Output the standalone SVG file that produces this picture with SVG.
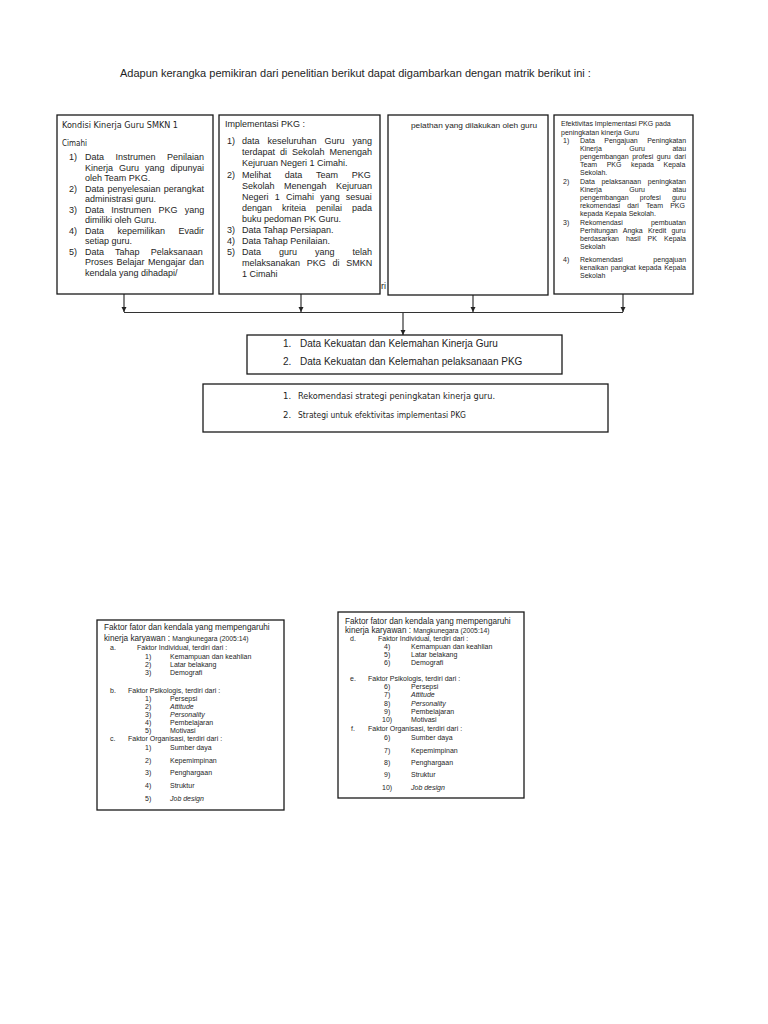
<svg xmlns="http://www.w3.org/2000/svg" width="768" height="1024" viewBox="0 0 768 1024">
<defs>
<style>
.bx{fill:#fff;stroke:#1a1a1a;stroke-width:1.3}
text{font-family:"Liberation Sans",Arial,sans-serif;fill:#1e1e1e}
.t9{font-size:9px}
.t10{font-size:10px}
.t11{font-size:11px}
.th{font-family:"DejaVu Sans","Liberation Sans",sans-serif;font-size:8.5px}
.t7{font-size:7px}
.t75{font-size:7.5px}
.t8{font-size:8.2px}
.t6{font-size:6.8px}
.it{font-style:italic}
.cn{stroke:#333;stroke-width:1.2;fill:none}
</style>
<marker id="ah" markerWidth="6" markerHeight="6" refX="5" refY="2.5" orient="auto" markerUnits="userSpaceOnUse"><path d="M0,0 L5,2.5 L0,5 z" fill="#222"/></marker>
</defs>
<rect width="768" height="1024" fill="#fff"/>

<text id="title" class="t11" x="120" y="77">Adapun kerangka pemikiran dari penelitian berikut dapat digambarkan dengan matrik berikut ini :</text>

<g id="connectors">
<path class="cn" d="M124,294 V312" marker-end="url(#ah)"/>
<path class="cn" d="M301,294 V312" marker-end="url(#ah)"/>
<path class="cn" d="M473,295 V312" marker-end="url(#ah)"/>
<path class="cn" d="M623,294 V312" marker-end="url(#ah)"/>
<path class="cn" d="M124,312.5 H623"/>
<path class="cn" d="M403,312 V335" marker-end="url(#ah)"/>
</g>

<g id="node-kondisi">
<rect class="bx" x="57" y="115" width="156" height="179"/>
<text class="th" x="62" y="128" textLength="116" lengthAdjust="spacingAndGlyphs">Kondisi Kinerja Guru SMKN 1</text>
<text class="th" x="62" y="146" textLength="25" lengthAdjust="spacingAndGlyphs">Cimahi</text>
<g class="t9">
<text x="69" y="160">1)</text><text x="85" y="160" style="word-spacing:9px">Data Instrumen Penilaian</text>
<text x="85" y="170.5" style="word-spacing:3.5px">Kinerja Guru yang dipunyai</text>
<text x="85" y="181">oleh Team PKG.</text>
<text x="69" y="191.5">2)</text><text x="85" y="191.5" style="word-spacing:0.9px">Data penyelesaian perangkat</text>
<text x="85" y="202">administrasi guru.</text>
<text x="69" y="212.5">3)</text><text x="85" y="212.5" style="word-spacing:4.7px">Data Instrumen PKG yang</text>
<text x="85" y="223">dimiliki oleh Guru.</text>
<text x="69" y="233.5">4)</text><text x="85" y="233.5" style="word-spacing:11px">Data kepemilikan Evadir</text>
<text x="85" y="244">setiap guru.</text>
<text x="69" y="254.5">5)</text><text x="85" y="254.5" style="word-spacing:8.7px">Data Tahap Pelaksanaan</text>
<text x="85" y="265" style="word-spacing:1px">Proses Belajar Mengajar dan</text>
<text x="85" y="275.5">kendala yang dihadapi/</text>
</g>
</g>

<g id="node-implementasi">
<rect class="bx" x="219" y="115" width="161" height="179"/>
<g class="t9">
<text x="225" y="127">Implementasi PKG :</text>
<text x="227" y="144">1)</text><text x="242" y="144" style="word-spacing:5.5px">data keseluruhan Guru yang</text>
<text x="242" y="155" style="word-spacing:2.5px">terdapat di Sekolah Menengah</text>
<text x="242" y="166">Kejuruan Negeri 1 Cimahi.</text>
<text x="227" y="177.5">2)</text><text x="242" y="177.5" style="word-spacing:11.3px">Melihat data Team PKG</text>
<text x="242" y="188.5" style="word-spacing:7px">Sekolah Menengah Kejuruan</text>
<text x="242" y="199.5" style="word-spacing:3.7px">Negeri 1 Cimahi yang sesuai</text>
<text x="242" y="210.5" style="word-spacing:7.5px">dengan kriteia penilai pada</text>
<text x="242" y="221.5">buku pedoman PK Guru.</text>
<text x="227" y="233">3)</text><text x="242" y="233">Data Tahap Persiapan.</text>
<text x="227" y="244">4)</text><text x="242" y="244">Data Tahap Penilaian.</text>
<text x="227" y="255">5)</text><text x="242" y="255" style="word-spacing:15.5px">Data guru yang telah</text>
<text x="242" y="266" style="word-spacing:4.2px">melaksanakan PKG di SMKN</text>
<text x="242" y="277">1 Cimahi</text>
</g>
</g>

<g id="node-pelatihan">
<rect class="bx" x="388" y="115" width="160" height="180"/>
<text class="t75" x="411" y="127.5" textLength="126" lengthAdjust="spacingAndGlyphs">pelathan yang dilakukan oleh guru</text>
</g>
<text class="t9" x="381" y="289">ri</text>

<g id="node-efektivitas">
<rect class="bx" x="554" y="115" width="139" height="179"/>
<g class="t7">
<text x="561" y="125.5">Efektivitas Implementasi PKG pada</text>
<text x="561" y="134.5">peningkatan kinerja Guru</text>
<text x="563" y="142.5">1)</text><text x="580" y="142.5" style="word-spacing:7.5px">Data Pengajuan Peningkatan</text>
<text x="580" y="150.5" style="word-spacing:25.6px">Kinerja Guru atau</text>
<text x="580" y="158.5" style="word-spacing:1.6px">pengembangan profesi guru dari</text>
<text x="580" y="166.5" style="word-spacing:7.6px">Team PKG kepada Kepala</text>
<text x="580" y="174.5">Sekolah.</text>
<text x="563" y="183.5">2)</text><text x="580" y="183.5" style="word-spacing:4.7px">Data pelaksanaan peningkatan</text>
<text x="580" y="191.5" style="word-spacing:25.6px">Kinerja Guru atau</text>
<text x="580" y="199.5" style="word-spacing:9.2px">pengembangan profesi guru</text>
<text x="580" y="207.5" style="word-spacing:5.2px">rekomendasi dari Team PKG</text>
<text x="580" y="215.5">kepada Kepala Sekolah.</text>
<text x="563" y="224.5">3)</text><text x="580" y="224.5" style="word-spacing:26.2px">Rekomendasi pembuatan</text>
<text x="580" y="232.5" style="word-spacing:3.4px">Perhitungan Angka Kredit guru</text>
<text x="580" y="240.5" style="word-spacing:5.2px">berdasarkan hasil PK Kepala</text>
<text x="580" y="248.5">Sekolah</text>
<text x="563" y="261.5">4)</text><text x="580" y="261.5" style="word-spacing:28.6px">Rekomendasi pengajuan</text>
<text x="580" y="269.5" style="word-spacing:0.8px">kenaikan pangkat kepada Kepala</text>
<text x="580" y="277.5">Sekolah</text>
</g>
</g>

<g id="node-data-kekuatan">
<rect class="bx" x="247" y="335" width="315" height="39"/>
<g class="t10">
<text x="283" y="346.5">1.</text><text x="300" y="346.5">Data Kekuatan dan Kelemahan Kinerja Guru</text>
<text x="283" y="364.5">2.</text><text x="300" y="364.5">Data Kekuatan dan Kelemahan pelaksanaan PKG</text>
</g>
</g>

<g id="node-rekomendasi">
<rect class="bx" x="203" y="384" width="405" height="48"/>
<text class="th" x="283" y="399">1.</text><text class="th" x="298" y="399" textLength="197" lengthAdjust="spacingAndGlyphs">Rekomendasi strategi peningkatan kinerja guru.</text>
<text class="th" x="283" y="418">2.</text><text class="th" x="298" y="418" textLength="168" lengthAdjust="spacingAndGlyphs">Strategi untuk efektivitas implementasi PKG</text>
</g>

<g id="node-faktor-1">
<rect class="bx" x="97" y="620" width="187" height="190"/>
<text class="t8" x="104" y="630">Faktor fator dan kendala yang mempengaruhi</text>
<text class="t8" x="104" y="641">kinerja karyawan : <tspan class="t6">Mangkunegara (2005:14)</tspan></text>
<g class="t7">
<text x="110" y="649.5">a.</text><text x="137" y="649.5">Faktor Individual, terdiri dari :</text>
<text x="145" y="658.5">1)</text><text x="170" y="658.5">Kemampuan dan keahlian</text>
<text x="145" y="666.5">2)</text><text x="170" y="666.5">Latar belakang</text>
<text x="145" y="674.5">3)</text><text x="170" y="674.5">Demografi</text>
<text x="110" y="692.5">b.</text><text x="128" y="692.5">Faktor Psikologis, terdiri dari :</text>
<text x="145" y="700.5">1)</text><text x="170" y="700.5">Persepsi</text>
<text x="145" y="708.5">2)</text><text x="170" y="708.5" class="it">Attitude</text>
<text x="145" y="716.5">3)</text><text x="170" y="716.5" class="it">Personality</text>
<text x="145" y="724.5">4)</text><text x="170" y="724.5">Pembelajaran</text>
<text x="145" y="732.5">5)</text><text x="170" y="732.5">Motivasi</text>
<text x="110" y="741">c.</text><text x="128" y="741">Faktor Organisasi, terdiri dari :</text>
<text x="145" y="749.5">1)</text><text x="170" y="749.5">Sumber daya</text>
<text x="145" y="763">2)</text><text x="170" y="763">Kepemimpinan</text>
<text x="145" y="775">3)</text><text x="170" y="775">Penghargaan</text>
<text x="145" y="788">4)</text><text x="170" y="788">Struktur</text>
<text x="145" y="800.5">5)</text><text x="170" y="800.5" class="it">Job design</text>
</g>
</g>

<g id="node-faktor-2">
<rect class="bx" x="338" y="612" width="186" height="186"/>
<text class="t8" x="345" y="624">Faktor fator dan kendala yang mempengaruhi</text>
<text class="t8" x="345" y="633">kinerja karyawan : <tspan class="t6">Mangkunegara (2005:14)</tspan></text>
<g class="t7">
<text x="350" y="640.5">d.</text><text x="378" y="640.5">Faktor Individual, terdiri dari :</text>
<text x="384" y="648.5">4)</text><text x="411" y="648.5">Kemampuan dan keahlian</text>
<text x="384" y="656.5">5)</text><text x="411" y="656.5">Latar belakang</text>
<text x="384" y="664.5">6)</text><text x="411" y="664.5">Demografi</text>
<text x="350" y="680.5">e.</text><text x="368" y="680.5">Faktor Psikologis, terdiri dari :</text>
<text x="384" y="688.5">6)</text><text x="411" y="688.5">Persepsi</text>
<text x="384" y="696.5">7)</text><text x="411" y="696.5" class="it">Attitude</text>
<text x="384" y="705.5">8)</text><text x="411" y="705.5" class="it">Personality</text>
<text x="384" y="714">9)</text><text x="411" y="714">Pembelajaran</text>
<text x="382" y="722">10)</text><text x="411" y="722">Motivasi</text>
<text x="351" y="730.5">f.</text><text x="368" y="730.5">Faktor Organisasi, terdiri dari :</text>
<text x="384" y="739.5">6)</text><text x="411" y="739.5">Sumber daya</text>
<text x="384" y="752.5">7)</text><text x="411" y="752.5">Kepemimpinan</text>
<text x="384" y="764.5">8)</text><text x="411" y="764.5">Penghargaan</text>
<text x="384" y="777">9)</text><text x="411" y="777">Struktur</text>
<text x="382" y="789.5">10)</text><text x="411" y="789.5" class="it">Job design</text>
</g>
</g>
</svg>
